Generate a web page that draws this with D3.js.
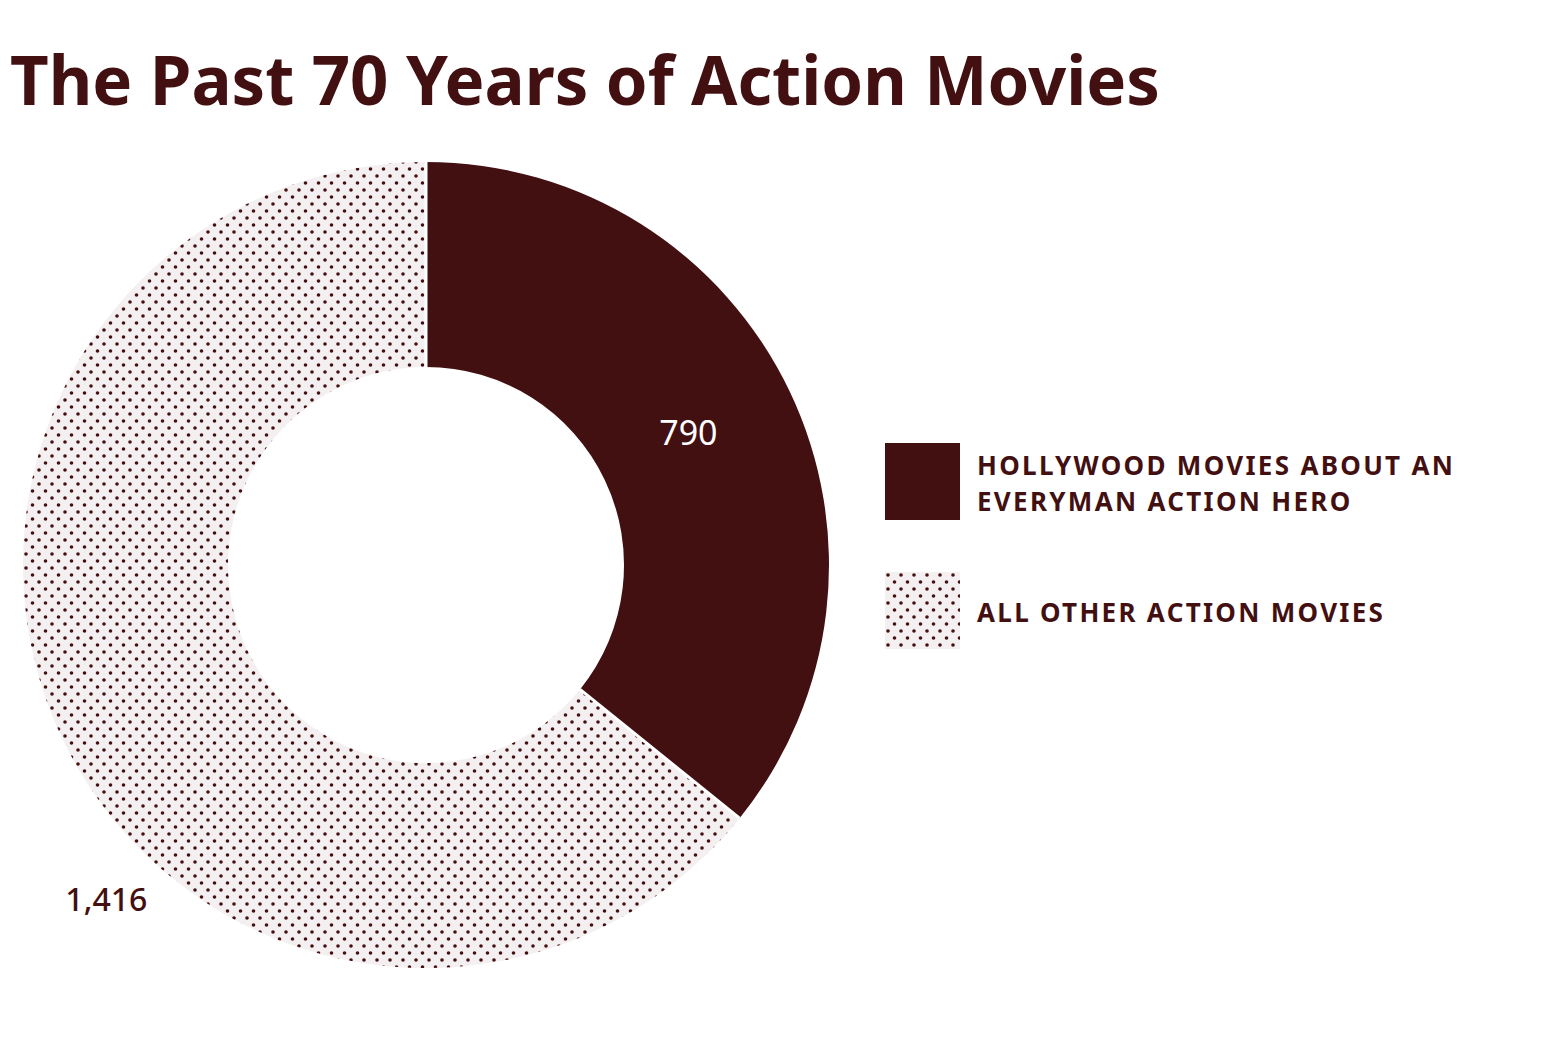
<!DOCTYPE html>
<html>
<head>
<meta charset="utf-8">
<style>
  body { margin: 0; background: #fff; }
  svg { display: block; }
</style>
</head>
<body>
<div id="chart"></div>
<script src="https://d3js.org/d3.v7.min.js"></script>
<script>
// data
const categories = ["HOLLYWOOD MOVIES ABOUT AN EVERYMAN ACTION HERO", "ALL OTHER ACTION MOVIES"];
const legendLines = [["HOLLYWOOD MOVIES ABOUT AN", "EVERYMAN ACTION HERO"], ["ALL OTHER ACTION MOVIES"]];
const values = [790, 1416];
const valueLabels = ["790", "1,416"];
const title = "The Past 70 Years of Action Movies";

const W = 1560, H = 1040;
const dark = "#431012";
const cx = 426, cy = 565, rOuter = 403, rInner = 198;

const svg = d3.select("#chart").append("svg")
  .attr("width", W).attr("height", H);

// dotted fill
const defs = svg.append("defs");
const pat = defs.append("pattern")
  .attr("id", "dots")
  .attr("patternUnits", "userSpaceOnUse")
  .attr("width", 13).attr("height", 14);
pat.append("rect").attr("width", 13).attr("height", 14).attr("fill", "#f4eff0");
pat.append("circle").attr("cx", 3).attr("cy", 3).attr("r", 1.8).attr("fill", dark);
pat.append("circle").attr("cx", 9.5).attr("cy", 10).attr("r", 1.8).attr("fill", dark);

const fills = [dark, "url(#dots)"];

svg.append("text")
  .attr("x", 10).attr("y", 105)
  .attr("font-family", "'Noto Sans', sans-serif")
  .attr("font-weight", 700)
  .attr("font-size", 68)
  .attr("fill", dark)
  .attr("textLength", 1150)
  .attr("lengthAdjust", "spacingAndGlyphs")
  .text(title);

const pie = d3.pie().sort(null).value(d => d);
const arcs = pie(values);
const arc = d3.arc().innerRadius(rInner).outerRadius(rOuter);

const g = svg.append("g").attr("transform", `translate(${cx},${cy})`);
g.selectAll("path.slice")
  .data(arcs)
  .join("path")
  .attr("class", "slice")
  .attr("d", arc)
  .attr("fill", (d, i) => fills[i]);

// slice separator
g.selectAll("line.sep")
  .data(arcs)
  .join("line")
  .attr("class", "sep")
  .attr("x1", d => rInner * Math.sin(d.startAngle))
  .attr("y1", d => -rInner * Math.cos(d.startAngle))
  .attr("x2", d => rOuter * Math.sin(d.startAngle))
  .attr("y2", d => -rOuter * Math.cos(d.startAngle))
  .attr("stroke", "#fff").attr("stroke-width", 3);

// value labels: position along each slice (fraction of angle, radius)
const labelPos = [[0.49, 294], [0.41, 463]];
g.selectAll("text.val")
  .data(arcs)
  .join("text")
  .attr("class", "val")
  .attr("transform", (d, i) => {
    const a = d.startAngle + (d.endAngle - d.startAngle) * labelPos[i][0], r = labelPos[i][1];
    return `translate(${r * Math.sin(a)},${-r * Math.cos(a)})`;
  })
  .attr("text-anchor", "middle")
  .attr("dy", "0.36em")
  .attr("font-family", "'Noto Sans', sans-serif")
  .attr("font-size", (d, i) => i === 0 ? 34 : 32)
  .attr("font-weight", (d, i) => i === 0 ? 400 : 500)
  .attr("fill", (d, i) => i === 0 ? "#fff" : dark)
  .text((d, i) => valueLabels[i]);

// legend
const legY = [443, 572];
const leg = svg.append("g");
const items = leg.selectAll("g.item")
  .data(categories)
  .join("g")
  .attr("class", "item")
  .attr("transform", (d, i) => `translate(885,${legY[i]})`);
items.append("rect")
  .attr("width", 75).attr("height", 77)
  .attr("fill", (d, i) => fills[i]);
items.each(function(d, i) {
  const lines = legendLines[i];
  const t = d3.select(this).append("text")
    .attr("font-family", "'Noto Sans', sans-serif")
    .attr("font-weight", 700)
    .attr("font-size", 26)
    .attr("letter-spacing", 2.3)
    .attr("fill", dark);
  const y0 = lines.length === 1 ? 50 : 32;
  lines.forEach((l, j) => {
    t.append("tspan").attr("x", 92).attr("y", y0 + j * 36).text(l);
  });
});
</script>
</body>
</html>
